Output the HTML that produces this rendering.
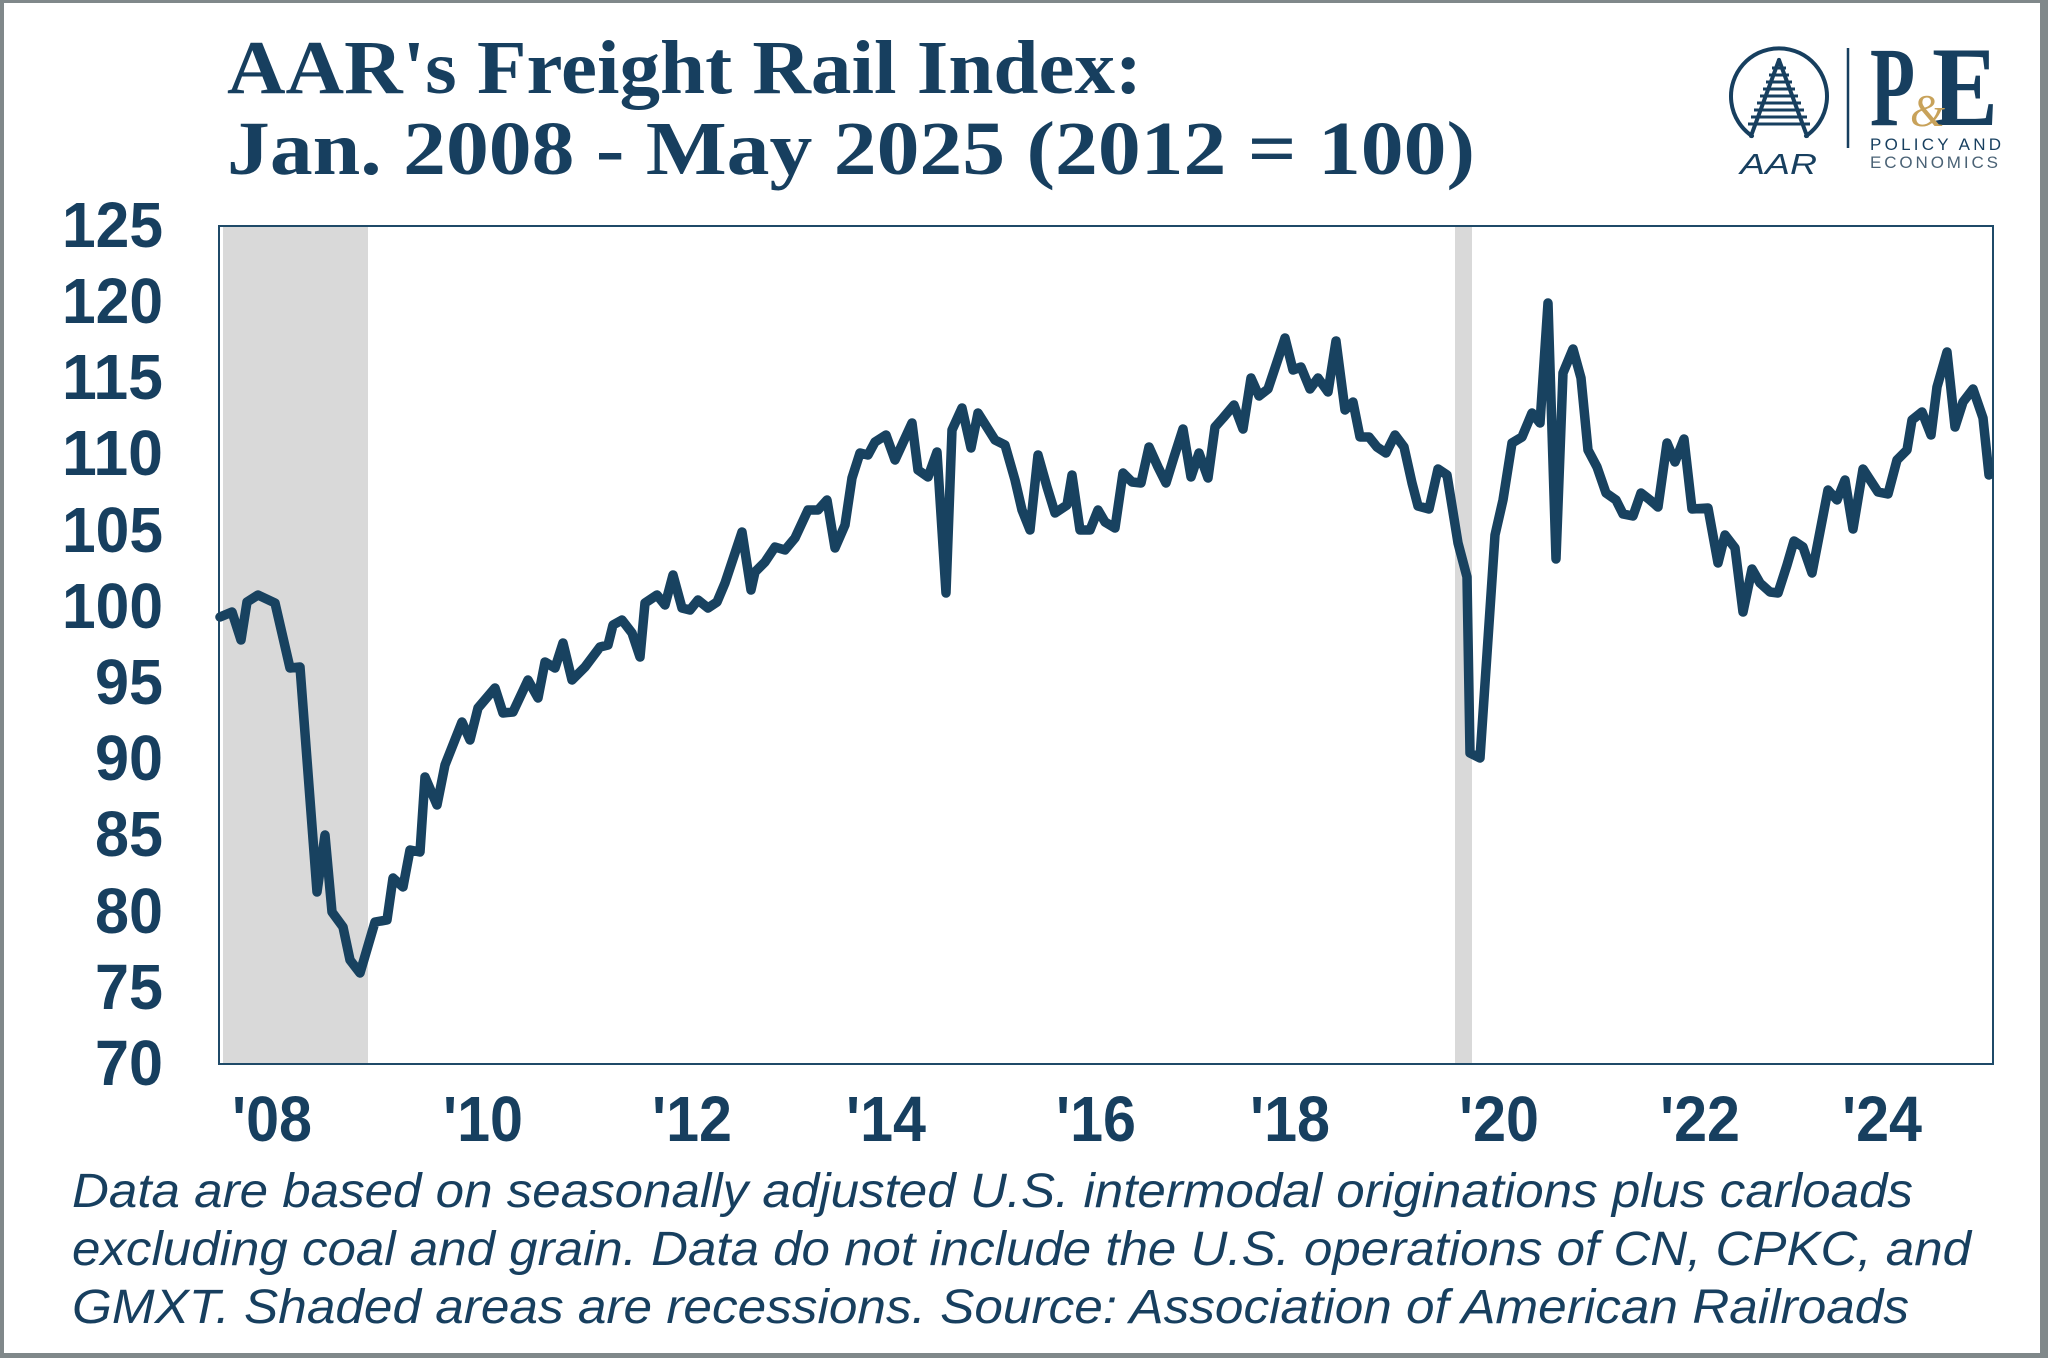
<!DOCTYPE html>
<html>
<head>
<meta charset="utf-8">
<style>
html,body{margin:0;padding:0;background:#ffffff;}
svg{display:block;}
</style>
</head>
<body>
<svg width="2048" height="1358" viewBox="0 0 2048 1358" xmlns="http://www.w3.org/2000/svg">
  <!-- outer frame -->
  <rect x="0" y="0" width="2048" height="1358" fill="#80888a"/>
  <rect x="4" y="3" width="2036" height="1350" fill="#ffffff"/>

  <!-- Title -->
  <g font-family="'Liberation Serif', serif" font-weight="bold" fill="#173f5f" font-size="76">
    <text x="227" y="93" textLength="915" lengthAdjust="spacingAndGlyphs">AAR's Freight Rail Index:</text>
    <text x="227" y="174" textLength="1248" lengthAdjust="spacingAndGlyphs">Jan. 2008 - May 2025 (2012 = 100)</text>
  </g>

  <!-- Logo: AAR -->
  <g fill="none" stroke="#173f5f" stroke-linecap="round">
    <path d="M1752,136 A48,48 0 1,1 1806,136" stroke-width="4"/>
    <path d="M1779,60 L1751,136" stroke-width="4"/>
    <path d="M1779,60 L1807,136" stroke-width="4"/>
    <g stroke-width="3" stroke-linecap="butt">
      <line x1="1772" y1="68" x2="1786" y2="68"/>
      <line x1="1769" y1="75" x2="1789" y2="75"/>
      <line x1="1766" y1="82" x2="1792" y2="82"/>
      <line x1="1763" y1="89" x2="1795" y2="89"/>
      <line x1="1760" y1="96" x2="1798" y2="96"/>
      <line x1="1757" y1="103" x2="1801" y2="103"/>
      <line x1="1754" y1="110" x2="1804" y2="110"/>
      <line x1="1751" y1="117" x2="1807" y2="117"/>
      <line x1="1748" y1="124" x2="1810" y2="124"/>
    </g>
  </g>
  <text x="1740" y="174" font-family="'Liberation Sans', sans-serif" font-style="italic" font-size="29" fill="#173f5f" textLength="77" lengthAdjust="spacingAndGlyphs">AAR</text>
  <line x1="1848" y1="48" x2="1848" y2="148" stroke="#173f5f" stroke-width="2.5"/>
  <!-- P&E -->
  <g font-family="'Liberation Serif', serif" font-size="113" font-weight="bold" fill="#173f5f">
    <text x="1870" y="125" textLength="45" lengthAdjust="spacingAndGlyphs">P</text>
    <text x="1932" y="125" textLength="66" lengthAdjust="spacingAndGlyphs">E</text>
  </g>
  <text x="1910" y="126" font-family="'Liberation Serif', serif" font-style="italic" font-size="46" fill="#c8a25a" textLength="35" lengthAdjust="spacingAndGlyphs">&amp;</text>
  <g font-family="'Liberation Sans', sans-serif" font-size="17">
    <text x="1870" y="150" fill="#173f5f" textLength="131" lengthAdjust="spacing">POLICY AND</text>
    <text x="1870" y="168" fill="#4a6275" textLength="128" lengthAdjust="spacing">ECONOMICS</text>
  </g>

  <!-- Recession shading -->
  <rect x="223" y="227" width="145" height="836" fill="#d9d9d9"/>
  <rect x="1455" y="227" width="17" height="836" fill="#d9d9d9"/>

  <!-- Plot border -->
  <rect x="219" y="226" width="1774" height="838" fill="none" stroke="#1f4a68" stroke-width="2"/>

  <!-- Y axis labels -->
  <g font-family="'Liberation Sans', sans-serif" font-weight="bold" font-size="64" fill="#173f5f" text-anchor="end">
    <text x="163" y="247" textLength="101" lengthAdjust="spacingAndGlyphs">125</text>
    <text x="163" y="323" textLength="101" lengthAdjust="spacingAndGlyphs">120</text>
    <text x="163" y="399" textLength="101" lengthAdjust="spacingAndGlyphs">115</text>
    <text x="163" y="475" textLength="101" lengthAdjust="spacingAndGlyphs">110</text>
    <text x="163" y="552" textLength="101" lengthAdjust="spacingAndGlyphs">105</text>
    <text x="163" y="628" textLength="101" lengthAdjust="spacingAndGlyphs">100</text>
    <text x="163" y="704" textLength="68" lengthAdjust="spacingAndGlyphs">95</text>
    <text x="163" y="780" textLength="68" lengthAdjust="spacingAndGlyphs">90</text>
    <text x="163" y="856" textLength="68" lengthAdjust="spacingAndGlyphs">85</text>
    <text x="163" y="933" textLength="68" lengthAdjust="spacingAndGlyphs">80</text>
    <text x="163" y="1009" textLength="68" lengthAdjust="spacingAndGlyphs">75</text>
    <text x="163" y="1085" textLength="68" lengthAdjust="spacingAndGlyphs">70</text>
  </g>

  <!-- X axis labels -->
  <g font-family="'Liberation Sans', sans-serif" font-weight="bold" font-size="64" fill="#173f5f" text-anchor="middle">
    <text x="272" y="1141" textLength="80" lengthAdjust="spacingAndGlyphs">'08</text>
    <text x="483" y="1141" textLength="80" lengthAdjust="spacingAndGlyphs">'10</text>
    <text x="692" y="1141" textLength="80" lengthAdjust="spacingAndGlyphs">'12</text>
    <text x="886" y="1141" textLength="80" lengthAdjust="spacingAndGlyphs">'14</text>
    <text x="1096" y="1141" textLength="80" lengthAdjust="spacingAndGlyphs">'16</text>
    <text x="1290" y="1141" textLength="80" lengthAdjust="spacingAndGlyphs">'18</text>
    <text x="1499" y="1141" textLength="80" lengthAdjust="spacingAndGlyphs">'20</text>
    <text x="1700" y="1141" textLength="80" lengthAdjust="spacingAndGlyphs">'22</text>
    <text x="1882" y="1141" textLength="80" lengthAdjust="spacingAndGlyphs">'24</text>
  </g>

  <!-- Data series -->
  <polyline fill="none" stroke="#184260" stroke-width="9.5" stroke-linejoin="round" stroke-linecap="round"
    points="220,617 232,612 241,640 247,602 258,595 275,603 290,668 300,667 317,892 325,835 332,912 343,927 350,960 360,973 375,922 387,920 393,878 403,887 410,850 420,852 425,777 437,805 445,765 462,722 470,740 478,708 495,688 503,713 513,712 528,680 538,698 545,662 555,668 563,643 572,680 585,667 600,647 608,645 613,625 622,620 632,633 640,657 645,603 657,595 665,605 673,575 682,608 690,610 698,600 708,608 717,602 725,583 742,532 751,590 755,572 765,562 775,547 785,550 795,538 808,510 818,510 827,500 835,548 845,525 852,478 860,453 868,455 875,442 886,435 895,460 912,423 918,470 928,477 937,452 946,593 952,430 962,408 971,448 978,413 995,440 1005,445 1015,480 1022,510 1030,530 1038,455 1047,487 1055,513 1067,505 1072,475 1080,530 1090,530 1098,510 1105,522 1115,528 1123,473 1132,482 1141,483 1149,447 1158,467 1166,483 1174,457 1183,429 1191,477 1199,453 1208,478 1215,427 1223,418 1234,405 1243,429 1251,378 1259,396 1268,389 1275,368 1285,338 1293,370 1301,367 1310,389 1318,378 1328,392 1336,341 1345,410 1353,402 1360,437 1369,437 1377,447 1386,453 1395,435 1404,447 1412,483 1418,506 1429,509 1438,469 1447,475 1458,543 1467,577 1470,753 1480,758 1495,535 1503,500 1512,443 1522,437 1532,413 1540,423 1548,303 1556,559 1563,373 1573,349 1581,378 1588,450 1597,467 1606,493 1616,500 1623,514 1633,516 1641,493 1650,500 1658,507 1667,443 1675,462 1684,439 1692,509 1708,508 1718,563 1725,535 1735,548 1743,612 1752,569 1760,583 1770,592 1778,593 1787,565 1794,541 1803,547 1812,573 1828,490 1837,500 1845,480 1853,529 1863,469 1878,492 1888,494 1897,460 1907,450 1912,420 1922,412 1931,435 1937,387 1947,352 1955,427 1963,402 1973,389 1983,418 1989,475"/>

  <!-- Footnote -->
  <g font-family="'Liberation Sans', sans-serif" font-style="italic" font-size="48" fill="#173f5f">
    <text x="72" y="1207" textLength="1841" lengthAdjust="spacingAndGlyphs">Data are based on seasonally adjusted U.S. intermodal originations plus carloads</text>
    <text x="72" y="1265" textLength="1899" lengthAdjust="spacingAndGlyphs">excluding coal and grain. Data do not include the U.S. operations of CN, CPKC, and</text>
    <text x="72" y="1323" textLength="1837" lengthAdjust="spacingAndGlyphs">GMXT. Shaded areas are recessions. Source: Association of American Railroads</text>
  </g>
</svg>
</body>
</html>
